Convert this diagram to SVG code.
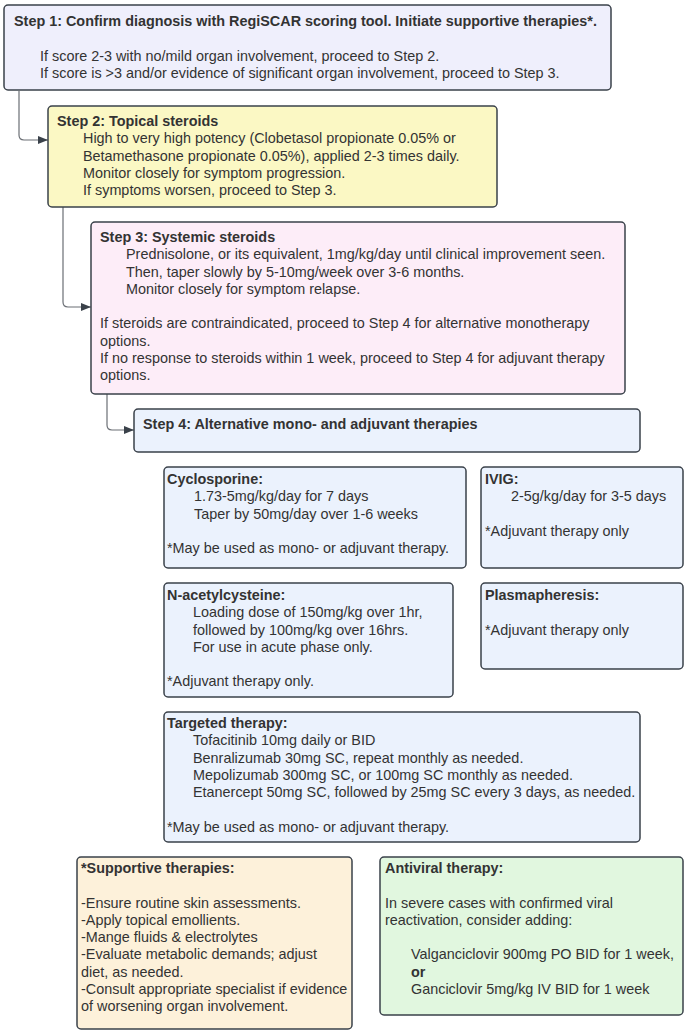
<svg xmlns="http://www.w3.org/2000/svg" width="685" height="1035" viewBox="0 0 685 1035">
<defs>
<marker id="arr" viewBox="0 0 10 10" refX="10" refY="5" markerWidth="10" markerHeight="10" markerUnits="userSpaceOnUse" orient="auto">
<path d="M0,1 L10,5 L0,9 Z" fill="#3a414a"/>
</marker>
<style>
.box{stroke:#3a414a;stroke-width:1.5}
text{font-family:"Liberation Sans",Arial,sans-serif;font-size:14.4px;fill:#333333}
.b{font-weight:bold}
.conn{fill:none;stroke:#6b6f75;stroke-width:1.2}
</style>
</defs>
<rect width="685" height="1035" fill="#ffffff"/>
<g id="connectors">
<path class="conn" d="M19,91 V135 Q19,140 24,140 H48" marker-end="url(#arr)"/>
<path class="conn" d="M63,207 V302 Q63,307 68,307 H91" marker-end="url(#arr)"/>
<path class="conn" d="M107,394 V425 Q107,430 112,430 H134" marker-end="url(#arr)"/>
</g>
<g id="step1">
<rect class="box" x="4" y="5" width="607" height="85" rx="4" fill="#efeffc"/>
<text class="b" x="14" y="26">Step 1: Confirm diagnosis with RegiSCAR scoring tool. Initiate supportive therapies*.</text>
<text x="40" y="60.5">If score 2-3 with no/mild organ involvement, proceed to Step 2.</text>
<text x="40" y="78">If score is &gt;3 and/or evidence of significant organ involvement, proceed to Step 3.</text>
</g>
<g id="step2">
<rect class="box" x="48" y="106" width="449" height="101" rx="4" fill="#fbf8c4"/>
<text class="b" x="57" y="126">Step 2: Topical steroids</text>
<text x="83" y="143.3">High to very high potency (Clobetasol propionate 0.05% or</text>
<text x="83" y="160.6">Betamethasone propionate 0.05%), applied 2-3 times daily.</text>
<text x="83" y="177.8">Monitor closely for symptom progression.</text>
<text x="83" y="195.1">If symptoms worsen, proceed to Step 3.</text>
</g>
<g id="step3">
<rect class="box" x="91" y="222" width="534" height="172" rx="4" fill="#fdedf8"/>
<text class="b" x="100" y="242">Step 3: Systemic steroids</text>
<text x="126" y="259.3">Prednisolone, or its equivalent, 1mg/kg/day until clinical improvement seen.</text>
<text x="126" y="276.6">Then, taper slowly by 5-10mg/week over 3-6 months.</text>
<text x="126" y="293.8">Monitor closely for symptom relapse.</text>
<text x="100" y="328.4">If steroids are contraindicated, proceed to Step 4 for alternative monotherapy</text>
<text x="100" y="345.7">options.</text>
<text x="100" y="363">If no response to steroids within 1 week, proceed to Step 4 for adjuvant therapy</text>
<text x="100" y="380.2">options.</text>
</g>
<g id="step4">
<rect class="box" x="134" y="409" width="506" height="43" rx="4" fill="#ebf2fd"/>
<text class="b" x="143" y="429">Step 4: Alternative mono- and adjuvant therapies</text>
</g>
<g id="cyclosporine">
<rect class="box" x="164" y="467" width="302" height="101" rx="4" fill="#ebf2fd"/>
<text class="b" x="167" y="484">Cyclosporine:</text>
<text x="194" y="501.3">1.73-5mg/kg/day for 7 days</text>
<text x="194" y="518.6">Taper by 50mg/day over 1-6 weeks</text>
<text x="167" y="553.1">*May be used as mono- or adjuvant therapy.</text>
</g>
<g id="ivig">
<rect class="box" x="481" y="467" width="202" height="101" rx="4" fill="#ebf2fd"/>
<text class="b" x="485" y="484">IVIG:</text>
<text x="511" y="501.3">2-5g/kg/day for 3-5 days</text>
<text x="485" y="535.8">*Adjuvant therapy only</text>
</g>
<g id="nac">
<rect class="box" x="164" y="583" width="289" height="114" rx="4" fill="#ebf2fd"/>
<text class="b" x="167" y="600">N-acetylcysteine:</text>
<text x="193" y="617.3">Loading dose of 150mg/kg over 1hr,</text>
<text x="193" y="634.6">followed by 100mg/kg over 16hrs.</text>
<text x="193" y="651.8">For use in acute phase only.</text>
<text x="167" y="686.4">*Adjuvant therapy only.</text>
</g>
<g id="plasmapheresis">
<rect class="box" x="481" y="583" width="202" height="86" rx="4" fill="#ebf2fd"/>
<text class="b" x="485" y="600">Plasmapheresis:</text>
<text x="485" y="634.6">*Adjuvant therapy only</text>
</g>
<g id="targeted">
<rect class="box" x="164" y="712" width="476" height="130" rx="4" fill="#ebf2fd"/>
<text class="b" x="167" y="728">Targeted therapy:</text>
<text x="193" y="745.3">Tofacitinib 10mg daily or BID</text>
<text x="193" y="762.6">Benralizumab 30mg SC, repeat monthly as needed.</text>
<text x="193" y="779.8">Mepolizumab 300mg SC, or 100mg SC monthly as needed.</text>
<text x="193" y="797.1">Etanercept 50mg SC, followed by 25mg SC every 3 days, as needed.</text>
<text x="167" y="831.7">*May be used as mono- or adjuvant therapy.</text>
</g>
<g id="supportive">
<rect class="box" x="77" y="857" width="275" height="172" rx="4" fill="#fdf1da"/>
<text class="b" x="81" y="873">*Supportive therapies:</text>
<text x="81" y="907.6">-Ensure routine skin assessments.</text>
<text x="81" y="924.8">-Apply topical emollients.</text>
<text x="81" y="942.1">-Mange fluids &amp; electrolytes</text>
<text x="81" y="959.4">-Evaluate metabolic demands; adjust</text>
<text x="81" y="976.7">diet, as needed.</text>
<text x="81" y="994">-Consult appropriate specialist if evidence</text>
<text x="81" y="1011.2">of worsening organ involvement.</text>
</g>
<g id="antiviral">
<rect class="box" x="380" y="857" width="303" height="158" rx="4" fill="#e1f7df"/>
<text class="b" x="385" y="873">Antiviral therapy:</text>
<text x="385" y="907.6">In severe cases with confirmed viral</text>
<text x="385" y="924.8">reactivation, consider adding:</text>
<text x="411" y="959.4">Valganciclovir 900mg PO BID for 1 week,</text>
<text class="b" x="411" y="976.7">or</text>
<text x="411" y="994">Ganciclovir 5mg/kg IV BID for 1 week</text>
</g>
</svg>
